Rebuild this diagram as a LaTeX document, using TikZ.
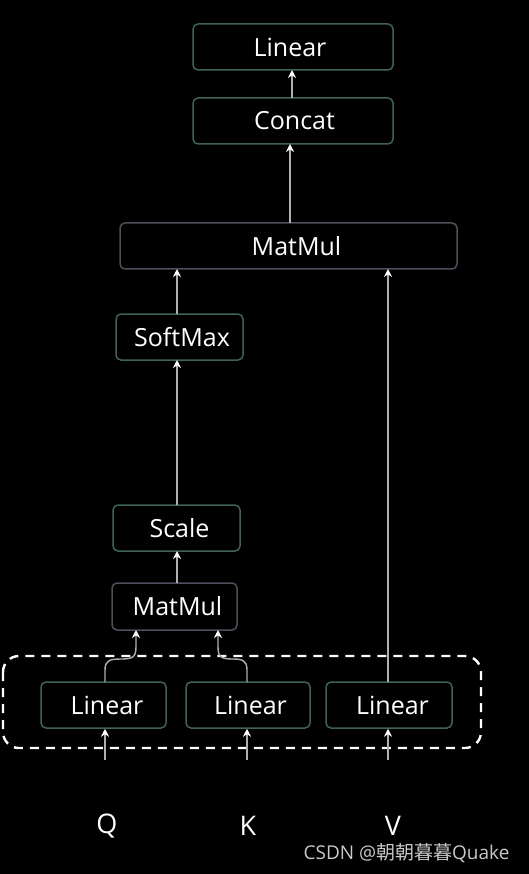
\documentclass[tikz,border=0pt]{standalone}
\usepackage{fontspec}
\setmainfont{Open Sans}
\newfontfamily\cjkfont{Noto Sans CJK SC}
\usetikzlibrary{arrows.meta}
\definecolor{boxg}{HTML}{3F6357}
\definecolor{boxp}{HTML}{4F4E5C}
\definecolor{linec}{HTML}{B0B0B0}
\definecolor{wm}{HTML}{C8C8C8}
\newcommand{\rsh}[2]{\hspace*{#1}#2}
\begin{document}
\begin{tikzpicture}[x=1pt,y=-1pt,
  blk/.style={draw=boxg,line width=1.5pt,rounded corners=5pt,fill=black,text=white,
    font=\fontsize{25}{28}\selectfont,inner sep=0pt},
  blkp/.style={blk,draw=boxp},
  lbl/.style={text=white,font=\fontsize{27}{28}\selectfont},
  arr/.style={draw=linec,line width=1.4pt,-{Stealth[length=8pt,width=8pt,color=white]}}]
\fill[black] (0,0) rectangle (529,874);
\useasboundingbox (0,0) rectangle (529,874);
% nodes
\node[blk,minimum width=200pt,minimum height=46pt] (lin) at (293,47) {Linear\rsh{6pt}{}};
\node[blk,minimum width=200pt,minimum height=46pt] (cat) at (293,121) {\rsh{3pt}{Concat}};
\node[blkp,minimum width=337pt,minimum height=46pt] (mm) at (288.5,246) {\rsh{16pt}{MatMul}};
\node[blk,minimum width=127pt,minimum height=46pt] (sm) at (179.5,337) {\rsh{5pt}{SoftMax}};
\node[blk,minimum width=127pt,minimum height=46pt] (sc) at (176.5,528) {\rsh{6pt}{Scale}};
\node[blkp,minimum width=125pt,minimum height=47pt] (mm2) at (174.5,606.5) {\rsh{6pt}{MatMul}};
\node[blk,minimum width=125pt,minimum height=46pt] (lq) at (103.5,705) {\rsh{7pt}{Linear}};
\node[blk,minimum width=124pt,minimum height=46pt] (lk) at (248,705) {\rsh{5pt}{Linear}};
\node[blk,minimum width=126pt,minimum height=46pt] (lv) at (389,705) {\rsh{7pt}{Linear}};
\draw[white,line width=2.4pt,dash pattern=on 9pt off 7pt,rounded corners=16pt] (3,656) rectangle (481,748);
\node[lbl] (q) at (107,826) {Q};
\node[lbl] (k) at (248,826) {K};
\node[lbl] (v) at (393,826) {V};
\coordinate (qs) at (105,760);
\coordinate (ks) at (247,760);
\coordinate (vs) at (388,760);
% connectors
\draw[arr] (qs) -- (qs |- lq.south);
\draw[arr] (ks) -- (ks |- lk.south);
\draw[arr] (vs) -- (vs |- lv.south);
\draw[arr] (388,682) -- (388,269);
\draw[arr] (177,314) -- (177,269);
\draw[arr] (177,505) -- (177,360);
\draw[arr] (177,583) -- (177,551);
\draw[arr] (290,223) -- (290,144);
\draw[arr] (292,98) -- (292,70);
\draw[arr] (105,682) -- (105,670) .. controls (105,660) and (110,659) .. (122,659) .. controls (134,659) and (136,656) .. (136,646) -- (136,630);
\draw[arr] (247,682) -- (247,670) .. controls (247,660) and (242,659) .. (232,659) .. controls (220,659) and (218,656) .. (218,646) -- (218,630);
% watermark
\node[text=wm,font=\fontsize{19}{22}\selectfont,anchor=east] (w) at (513,853) {CSDN @{\cjkfont 朝朝暮暮}Quake};
\end{tikzpicture}
\end{document}
